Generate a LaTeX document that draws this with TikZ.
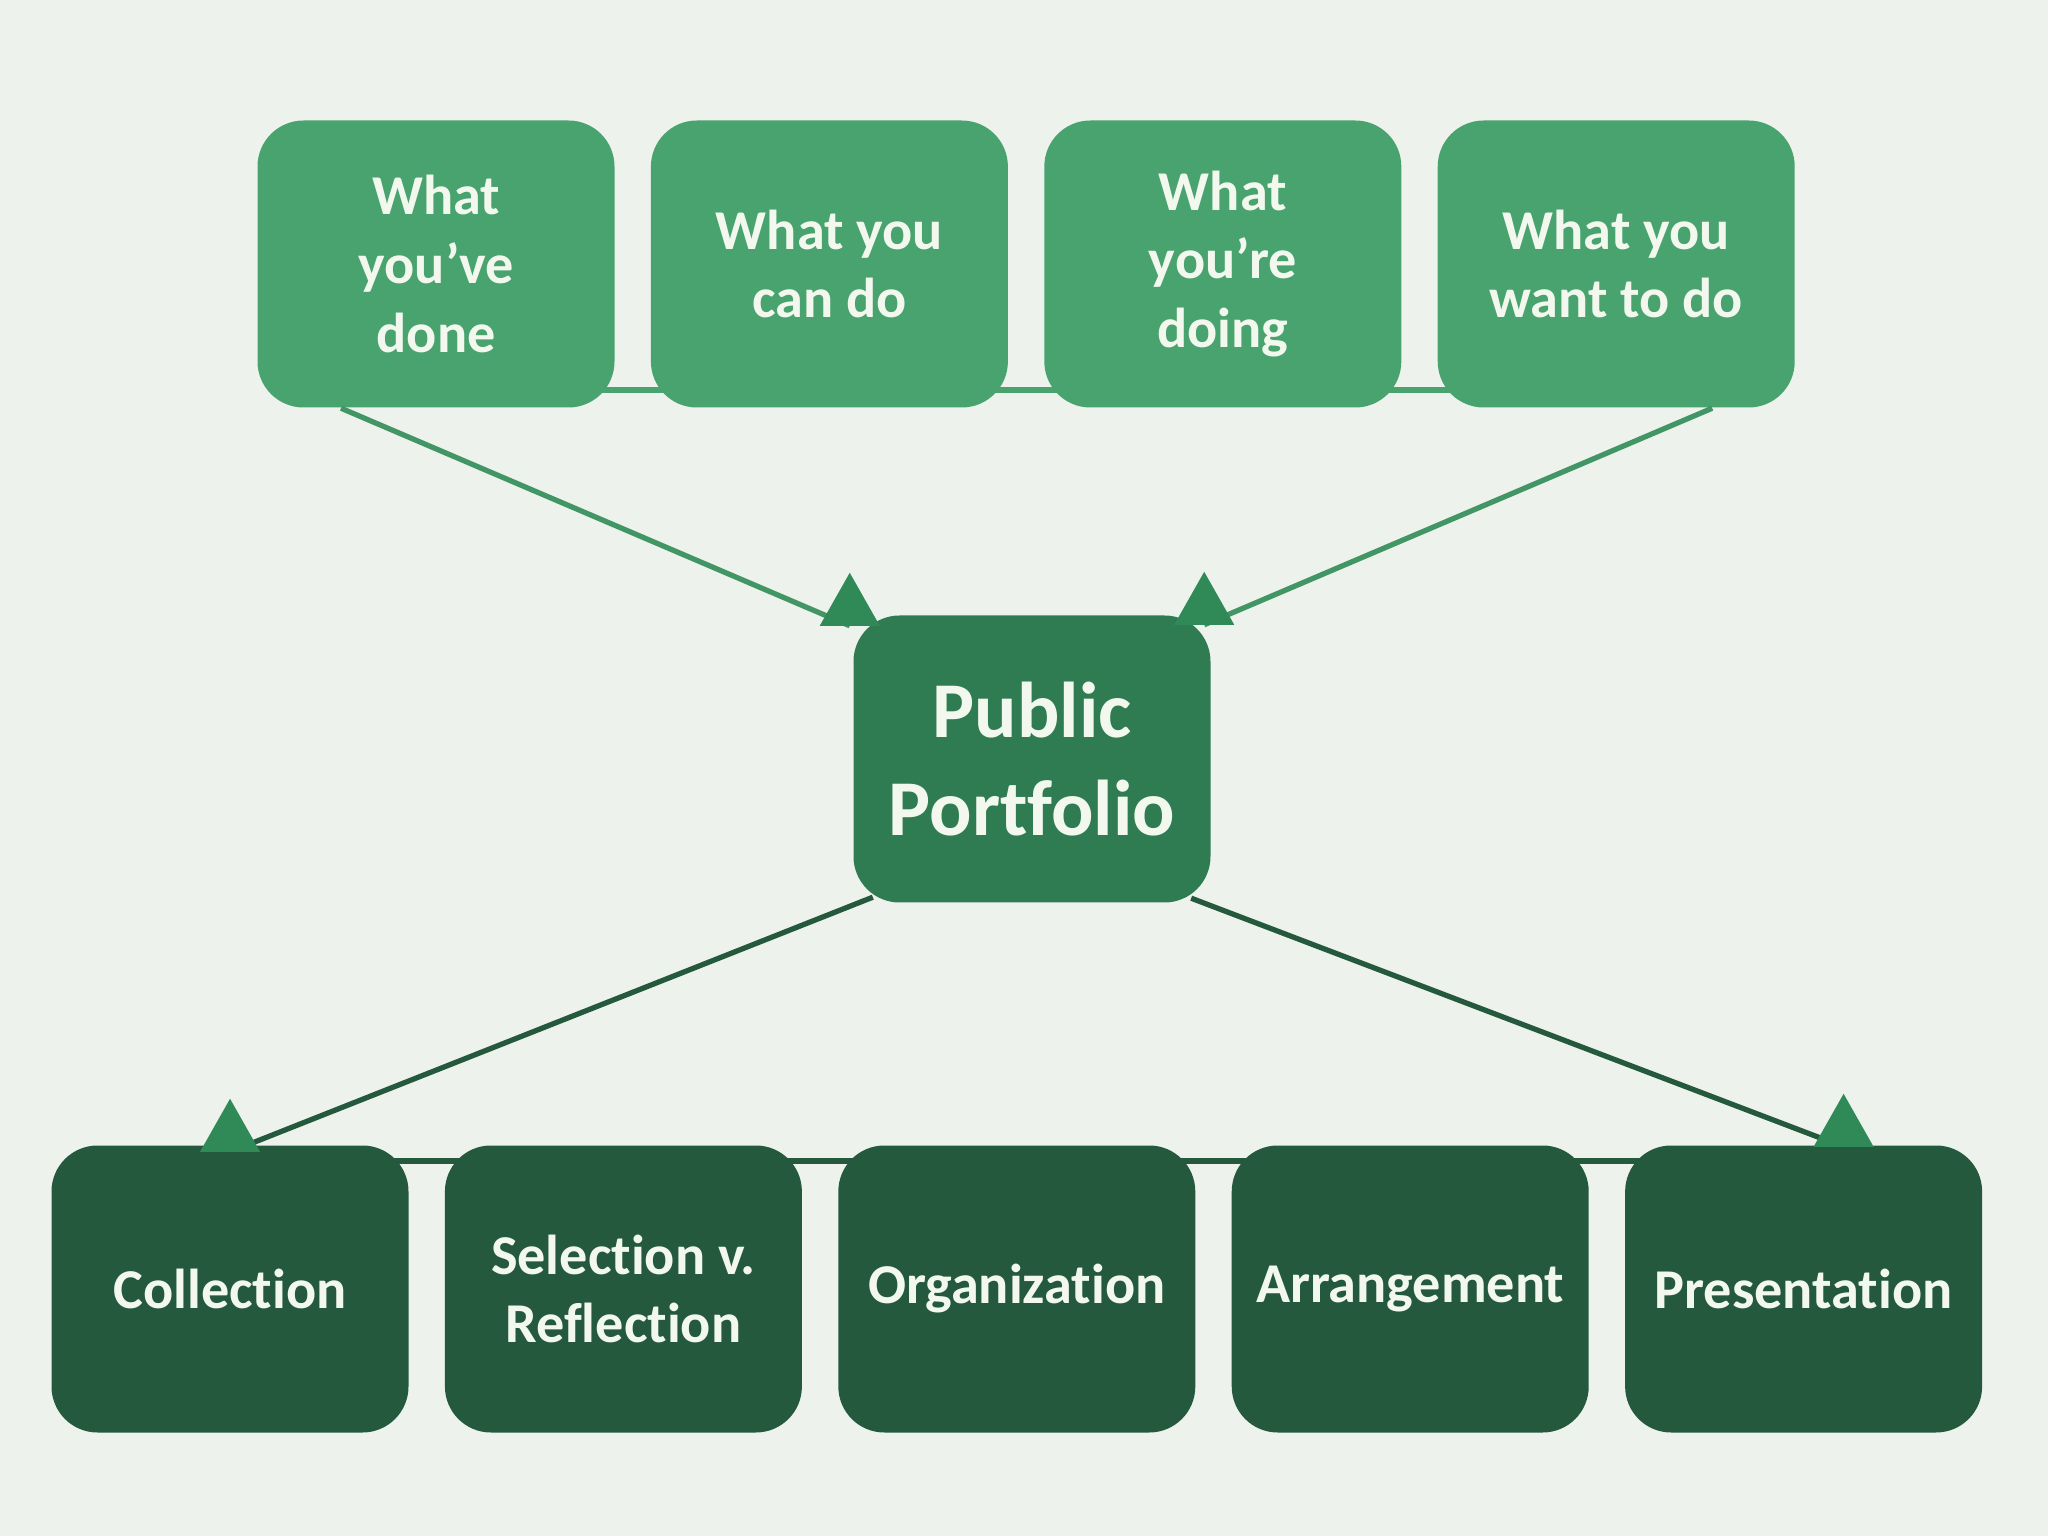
\documentclass[tikz,border=0pt]{standalone}
\usepackage{fontspec}
\setmainfont{Carlito}[Ligatures=NoCommon]
\usepackage{xcolor}
\usetikzlibrary{positioning,decorations.markings}
\definecolor{pagebg}{HTML}{EEF2EC}
\definecolor{topgreen}{HTML}{48A36E}
\definecolor{midgreen}{HTML}{307C52}
\definecolor{darkgreen}{HTML}{25593D}
\definecolor{tipgreen}{HTML}{2F8A57}
\definecolor{boxtext}{HTML}{F2F8EE}
\pgfdeclarelayer{canvas}
\pgfdeclarelayer{wires}
\pgfsetlayers{canvas,wires,main}
\tikzset{
  pbox/.style={rounded corners=4.6mm, align=center, text=boxtext,
               font=\bfseries\fontsize{16}{19.5}\selectfont,
               minimum width=3.57cm, minimum height=2.87cm, inner sep=2pt},
  askbox/.style={pbox, fill=topgreen},
  stepbox/.style={pbox, fill=darkgreen},
  hubbox/.style={pbox, fill=midgreen, font=\bfseries\fontsize{22.5}{28}\selectfont},
  uptip/.style={postaction={decorate}, decoration={markings,
               mark=at position 1 with {\pgftransformresetnontranslations
                 \fill[tipgreen] (-0.3,0) -- (0.3,0) -- (0,0.53) -- cycle;}}},
  feed/.style={line width=1.5pt, topgreen!92!black, uptip},
  spread/.style={line width=1.5pt, darkgreen, uptip},
  rail/.style={line width=1.6pt},
}

\begin{document}
\begin{tikzpicture}[node distance=0.35cm]
  \begin{pgfonlayer}{canvas}
    \fill[pagebg] (0,0) rectangle (20.48,-15.36);
  \end{pgfonlayer}

  % what goes in
  \node[askbox] (done) at (4.36,-2.64) {What\\you’ve\\done};
  \node[askbox, right=of done] (cando) {What you\\can do};
  \node[askbox, right=of cando] (doing) {What\\you’re\\doing};
  \node[askbox, right=of doing] (wantdo) {What you\\want to do};

  \node[hubbox] (portfolio) at (10.32,-7.59) {Public\\Portfolio};

  % how it is built
  \node[stepbox] (collect) at (2.30,-12.89) {Collection};
  \node[stepbox, right=of collect] (select) {Selection v.\\Reflection};
  \node[stepbox, right=of select] (organize) {Organization};
  \node[stepbox, right=of organize] (arrange) {Arrangement};
  \node[stepbox, right=of arrange] (present) {Presentation};

  \begin{pgfonlayer}{wires}
    \draw[rail, topgreen] ([yshift=0.18cm]done.south) -- ([yshift=0.18cm]wantdo.south);
    \draw[rail, darkgreen] ([yshift=-0.16cm]collect.north) -- ([yshift=-0.16cm]present.north);
  \end{pgfonlayer}

  \draw[feed] ([xshift=-0.95cm]done.south) -- ([shift={(-0.03,-0.11)}]portfolio.north west);
  \draw[feed] ([xshift=0.96cm]wantdo.south) -- ([shift={(-0.07,-0.10)}]portfolio.north east);
  \draw[spread] ([shift={(0.20,0.06)}]portfolio.south west) -- ([yshift=-0.07cm]collect.north);
  \draw[spread] ([shift={(-0.20,0.05)}]portfolio.south east) -- ([shift={(0.40,-0.02)}]present.north);
\end{tikzpicture}
\end{document}
